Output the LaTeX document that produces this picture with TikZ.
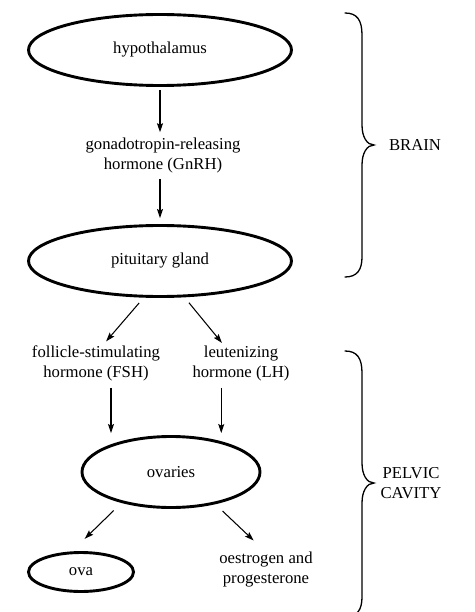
\documentclass[tikz,border=0pt]{standalone}
\usepackage{fontspec}
\setmainfont{Liberation Serif}
\usetikzlibrary{shapes.geometric,arrows.meta}
\tikzset{
  organ/.style={draw, ellipse, line width=2.9pt, inner sep=0pt},
  txt/.style={align=center, inner sep=0pt, font=\fontsize{16.7}{20}\selectfont},
  arr/.style={line width=1.05pt, -{Stealth[length=9pt,width=6pt,inset=1.5pt]}},
  bracepath/.style={line width=1.3pt, line cap=round}
}
\begin{document}
\begin{tikzpicture}[x=1pt,y=-1pt]
\useasboundingbox (0,0) rectangle (474,612);
\clip (0,0) rectangle (474,612);
% nodes
\node[txt, organ, minimum width=263pt, minimum height=71pt] (hyp) at (160,50) {hypothalamus};
\node[txt] (gnrh) at (163,155) {gonadotropin-releasing\\hormone (GnRH)};
\node[txt, organ, minimum width=263pt, minimum height=71pt] (pit) at (160,261) {pituitary gland};
\node[txt] (fsh) at (96,363) {follicle-stimulating\\hormone (FSH)};
\node[txt] (lh) at (241,363) {leutenizing\\hormone (LH)};
\node[txt, organ, minimum width=178pt, minimum height=71pt] (ovr) at (171,472) {ovaries};
\node[txt, organ, minimum width=105pt, minimum height=39pt] (ova) at (81,572) {ova};
\node[txt] (oest) at (266,570) {oestrogen and\\progesterone};
\node[txt] (brain) at (415,145) {BRAIN};
\node[txt] (pelvic) at (411,483) {PELVIC\\CAVITY};
% arrows
\draw[arr, shorten <=3pt, shorten >=5pt] (hyp.south) -- (hyp.south |- gnrh.north);
\draw[arr, shorten <=6pt, shorten >=6pt] (hyp.south |- gnrh.south) -- (pit.north);
\draw[arr, shorten <=7pt, shorten >=5pt] (pit.246) -- (fsh.69);
\draw[arr, shorten <=7pt, shorten >=3pt] (pit.304) -- (lh.134);
\draw[arr, shorten <=7pt, shorten >=2pt] (fsh.-50) -- (fsh.-50 |- ovr.north);
\draw[arr, shorten <=7pt, shorten >=2pt] (lh.222) -- (lh.222 |- ovr.north);
\draw[arr, shorten <=11pt, shorten >=18pt] (ovr.212) -- (ova.114);
\draw[arr, shorten <=10pt, shorten >=17pt] (ovr.324) -- (oest.north);
% braces
\draw[bracepath] (345,13) .. controls (357,13) and (362,20) .. (362,35)
  -- (362,125) .. controls (362,137) and (367,145) .. (374,145)
  .. controls (367,145) and (362,153) .. (362,165)
  -- (362,257) .. controls (362,270) and (357,277) .. (345,277);
\draw[bracepath] (345,351) .. controls (357,351) and (362,358) .. (362,373)
  -- (362,463) .. controls (362,475) and (367,483) .. (374,483)
  .. controls (367,483) and (362,491) .. (362,503)
  -- (362,597) .. controls (362,610) and (357,617) .. (345,617);
\end{tikzpicture}
\end{document}
